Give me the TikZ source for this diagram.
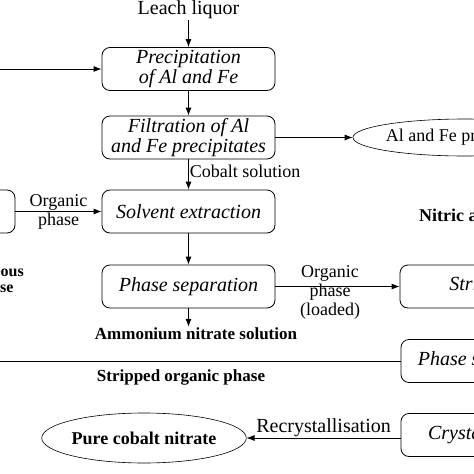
\documentclass[tikz,border=0pt]{standalone}
\usepackage{fontspec}
\setmainfont{Liberation Serif}
\usetikzlibrary{positioning}
\usetikzlibrary{arrows.meta, shapes.geometric}

\begin{document}
\begin{tikzpicture}[x=1pt, y=-1pt,
       stage/.style={draw, rounded corners=8pt, line width=0.8pt,
                     minimum width=173pt, minimum height=43pt,
                     align=center, inner sep=1pt,
                     font=\fontsize{20}{20}\selectfont\itshape},
       product/.style={draw, ellipse, line width=0.6pt, inner sep=0pt,
                       font=\fontsize{18}{20}\selectfont},
       flowtext/.style={align=center, inner sep=1pt,
                        font=\fontsize{18}{19}\selectfont},
       flow/.style={line width=0.8pt, -{Latex[length=8pt, width=6pt]}}]
       \useasboundingbox (0,0) rectangle (474,474);
       \clip (0,0) rectangle (474,474);

       % main column
       \node[flowtext, font=\fontsize{20}{20}\selectfont] (leach) at (188.5,10) {Leach liquor};
       \node[stage] (prec) at (188.5,69) {Precipitation\\of Al and Fe};
       \node[stage] (filt) at (188.5,137.5) {Filtration of Al\\and Fe precipitates};
       \node[stage] (solv) at (188.5,211.5) {Solvent extraction};
       \node[stage] (psep) at (188.5,286.5) {Phase separation};
       \node[flowtext, font=\fontsize{17}{19}\selectfont\bfseries] (ammo) at (196,334) {Ammonium nitrate solution};

       % right column
       \node[product] (alfe) at (465,137.5) [minimum width=207pt, minimum height=37pt] {Al and Fe precipitates};
       \node[flowtext, font=\fontsize{18}{19}\selectfont\bfseries, anchor=west] (nitric) at (418,215) {Nitric acid};
       \node[stage] (strip) at (486.5,286.5) {Stripping};
       \node[stage] (psepR) at (487.5,361) {Phase separation};
       \node[stage] (cryst) at (487.5,435) {Crystallisation};

       % left side
       \node[stage] (orgfeed) at (-71.5,211.5) {};
       \node[flowtext, font=\fontsize{16}{16}\selectfont\bfseries] (aqueous) at (-6,281) {Aqueous\\phase};
       \coordinate (inprec) at (-10,69);
       \coordinate (recycle) at (-10,361);

       % bottom
       \node[product, font=\fontsize{18}{20}\selectfont\bfseries, minimum width=182pt, minimum height=50pt] (pure) at (144,438) {Pure cobalt nitrate};

       \draw[flow] (leach) -- (prec);
       \draw[flow] (inprec) -- (prec);
       \draw[flow] (prec) -- (filt);
       \draw[flow] (filt) -- (alfe);
       \draw[flow] (filt) -- node[flowtext, right, yshift=3pt]{Cobalt solution} (solv);
       \draw[flow] (orgfeed) -- node[flowtext]{Organic\\phase} (solv);
       \draw[flow] (solv) -- (psep);
       \draw[flow] (psep) -- (strip);
       \node[flowtext] (loaded) at (330,292) {Organic\\phase\\(loaded)};
       \draw[flow] (psep) -- (ammo.north -| psep.south);
       \draw[line width=0.8pt] (psepR) -- (recycle);
       \node[flowtext, font=\fontsize{17}{19}\selectfont\bfseries] (stripped) at (181,377) {Stripped organic phase};
       \draw[flow] (cryst.west |- pure) -- node[flowtext, above, font=\fontsize{20}{20}\selectfont]{Recrystallisation} (pure);
\end{tikzpicture}
\end{document}
